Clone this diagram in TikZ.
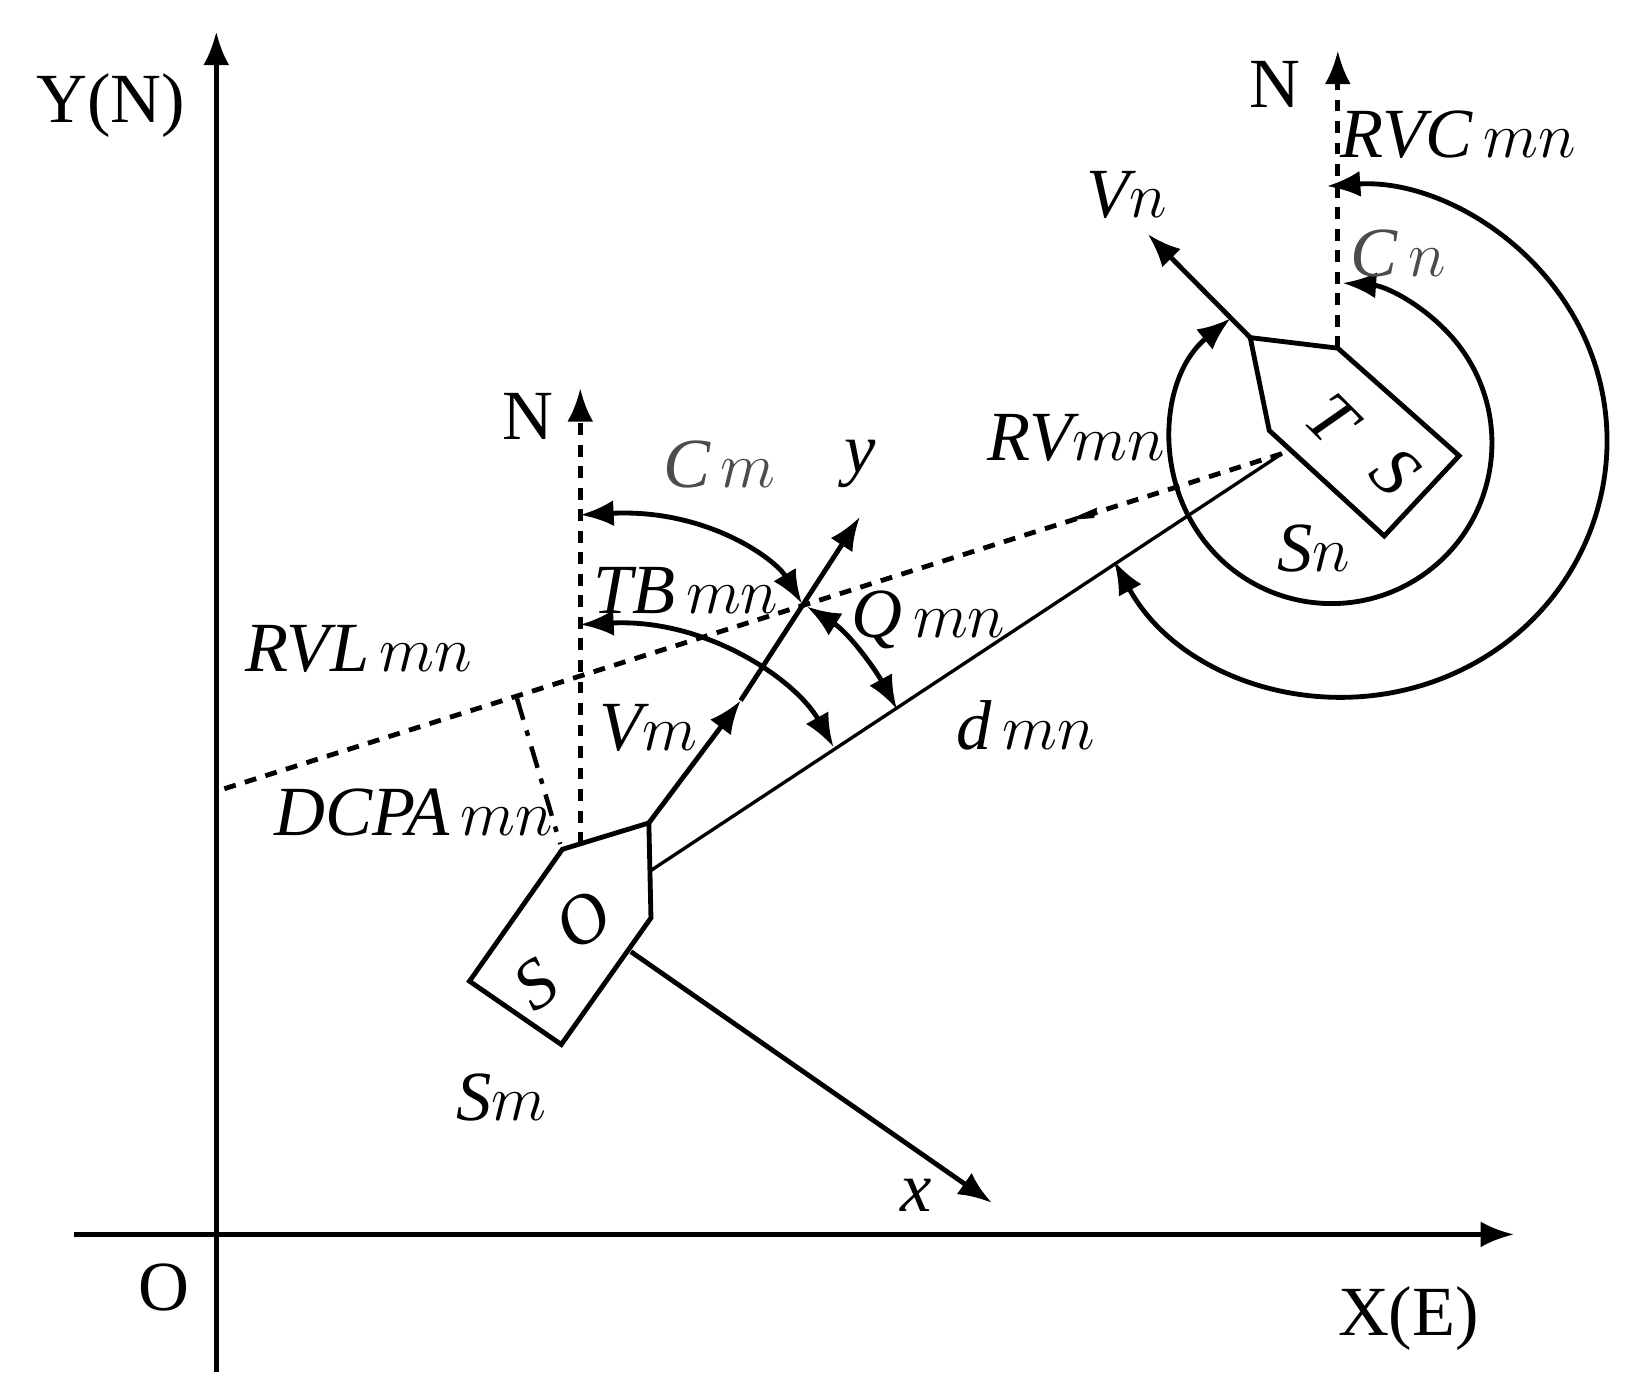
\documentclass[tikz,border=0pt]{standalone}
\usepackage{fontspec}
\setmainfont{Liberation Serif}
\usetikzlibrary{arrows.meta}
\begin{document}
\begin{tikzpicture}[x=0.01cm,y=-0.01cm,
  ln/.style={line width=1.3pt},
  thin/.style={line width=0.9pt},
  dsh/.style={line width=1.3pt,dash pattern=on 3.2pt off 2.6pt},
  tip/.style={-{Latex[length=9pt,width=7pt]}},
  tips/.style={{Latex[length=9pt,width=7pt]}-{Latex[length=9pt,width=7pt]}},
  lab/.style={font=\fontsize{19}{22}\selectfont\itshape, inner sep=1pt},
  up/.style={font=\fontsize{19}{22}\selectfont, inner sep=1pt},
  gray/.style={text=black!70}]
\useasboundingbox (0,0) rectangle (1562,1324);
% axes
\coordinate (ya0) at (205,1300); \coordinate (ya1) at (205,30);
\coordinate (xa0) at (70,1170); \coordinate (xa1) at (1435,1170);
\draw[ln,tip] (ya0) -- (ya1);
\draw[ln,tip] (xa0) -- (xa1);
\node[up] (YN) at (105,100) {Y(N)};
\node[up] (O) at (155,1220) {O};
\node[up] (XE) at (1335,1250) {X(E)};
% own ship
\coordinate (ob) at (615,780); \coordinate (ol) at (533,805);
\coordinate (obl) at (445,930); \coordinate (os) at (532,990);
\coordinate (or) at (617,870);
\draw[ln,line join=miter] (ol) -- (ob) -- (or) -- (os) -- (obl) -- cycle;
\node[lab,rotate=35] (Olet) at (553,872) {O};
\node[lab,rotate=35] (Slet) at (508,933) {S};
\node[lab] (Sm) at (475,1040) {S$m$};
% y, Vm
\coordinate (vmt) at (702,664); \coordinate (yt) at (815,490);
\draw[ln,tip] (ob) -- (vmt);
\draw[ln,tip] (vmt) -- (yt);
\node[lab] (ylab) at (815,440) {y};
\node[lab] (Vm) at (615,690) {V$m$};
% x axis
\coordinate (xs) at (598,902); \coordinate (xt) at (940,1140);
\draw[ln,tip] (xs) -- (xt);
\node[lab] (xlab) at (868,1133) {x};
% N line own
\coordinate (n1) at (550,800); \coordinate (n1t) at (550,368);
\draw[dsh,tip] (n1) -- (n1t);
\node[up] (N1) at (500,395) {N};
% target ship
\coordinate (tb) at (1185,320); \coordinate (tr) at (1268,330);
\coordinate (ts1) at (1383,432); \coordinate (ts2) at (1312,508);
\coordinate (tl) at (1203,408);
\draw[ln,line join=miter] (tb) -- (tr) -- (ts1) -- (ts2) -- (tl) -- cycle;
\node[lab,rotate=-45] (Tlet) at (1262,397) {T};
\node[lab,rotate=-45] (S2let) at (1322,447) {S};
\node[lab] (Sn) at (1245,520) {S$n$};
\coordinate (vnt) at (1088,222);
\draw[ln,tip] (tb) -- (vnt);
\node[lab] (Vn) at (1068,185) {V$n$};
\coordinate (n2t) at (1268,48);
\draw[dsh,tip] (tr) -- (n2t);
\node[up] (N2) at (1208,80) {N};
% relative lines
\coordinate (tc) at (1215,430); \coordinate (rvl) at (205,750);
\coordinate (P) at (760,572);
\draw[dsh] (tc) -- (rvl);
\fill (1012,493) -- (1040,481) -- (1037,491) -- cycle;
\coordinate (dstart) at (617,825);
\draw[thin] (dstart) -- (tc);
% DCPA
\coordinate (df) at (490,662); \coordinate (dd) at (531,800);
\draw[line width=1.2pt,dash pattern=on 6pt off 3pt on 1.5pt off 3pt] (df) -- (dd);
% arcs
\coordinate (cm1) at (550,488); \coordinate (tb1) at (550,592);
\coordinate (tb2) at (790,708); \coordinate (q2) at (850,672);
\coordinate (q1) at (765,575);
\draw[ln,tips] (cm1) .. controls (670,482) and (735,530) .. (P);
\draw[ln,tips] (tb1) .. controls (670,586) and (755,645) .. (tb2);
\draw[ln,tips] (q1) .. controls (805,600) and (830,635) .. (q2);
% circles around target
\coordinate (tcen) at (1262,420);
\path (tcen) ++(129:1.52cm) coordinate (c1);
\draw[ln,tips] (c1) arc[start angle=129,end angle=446,radius=1.52cm];
\coordinate (tcen2) at (1275,418);
\path (tcen2) ++(208:2.48cm and 2.42cm) coordinate (c2);
\draw[ln,tips] (c2) arc[start angle=208,end angle=454,x radius=2.48cm,y radius=2.42cm];
% labels
\node[lab] (RVC) at (1382,128) {RVC$\,mn$};
\node[lab,gray] (Cn) at (1325,240) {C$\,n$};
\node[lab] (RV) at (1020,415) {RV$mn$};
\node[lab,gray] (Cm) at (682,440) {C$\,m$};
\node[lab] (TB) at (650,560) {TB$\,mn$};
\node[lab] (Q) at (880,588) {Q$\,mn$};
\node[lab] (RVL) at (340,615) {RVL$\,mn$};
\node[lab] (dmn) at (972,688) {d$\,mn$};
\node[lab] (DCPA) at (392,770) {DCPA$\,mn$};
\end{tikzpicture}
\end{document}
